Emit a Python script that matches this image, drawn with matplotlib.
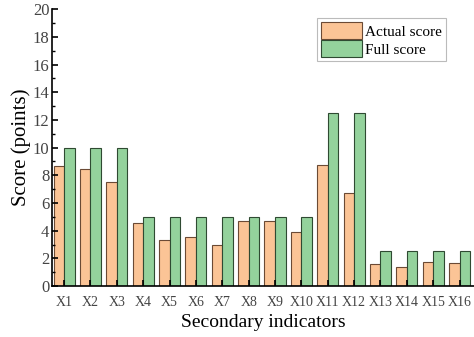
import matplotlib
matplotlib.use('Agg')
import matplotlib.pyplot as plt
import numpy as np

# scores for each secondary indicator
indicators = ['X1', 'X2', 'X3', 'X4', 'X5', 'X6', 'X7', 'X8',
              'X9', 'X10', 'X11', 'X12', 'X13', 'X14', 'X15', 'X16']
actual_score = [8.65, 8.45, 7.5, 4.55, 3.35, 3.55, 3.0, 4.72,
                4.68, 3.93, 8.72, 6.75, 1.6, 1.35, 1.77, 1.65]
full_score = [10, 10, 10, 5, 5, 5, 5, 5,
              5, 5, 12.5, 12.5, 2.5, 2.5, 2.5, 2.5]

plt.rcParams['font.family'] = ['Liberation Serif', 'DejaVu Serif']

fig = plt.figure(figsize=(4.74, 3.37), dpi=100)
ax = fig.add_axes([0.11, 0.151, 0.89, 0.822])

x = np.arange(1, len(indicators) + 1)
w = 0.4
ax.bar(x - w / 2, actual_score, w, color='#FBC496', edgecolor='#6b4a35',
       linewidth=0.8, label='Actual score')
ax.bar(x + w / 2, full_score, w, color='#94D29C', edgecolor='#2f4a32',
       linewidth=0.8, label='Full score')

ax.set_xlim(0.545, 16.55)
ax.set_ylim(0, 20)
ax.set_xticks(x)
ax.set_xticklabels(indicators)
ax.set_yticks(np.arange(0, 21, 2))
ax.set_yticks(np.arange(0, 21, 1), minor=True)
ax.tick_params(axis='both', which='major', direction='in', length=4,
               width=1.2, labelsize=12, labelcolor='#444444')
ax.tick_params(axis='x', labelsize=10, pad=7)
ax.tick_params(axis='y', pad=2)
ax.tick_params(axis='y', which='minor', direction='in', length=2.5, width=1)
ax.spines['top'].set_visible(False)
ax.spines['right'].set_visible(False)
ax.spines['left'].set_linewidth(1.2)
ax.spines['bottom'].set_linewidth(1.2)

ax.set_ylabel('Score (points)', fontsize=15, labelpad=1)
ax.set_xlabel('Secondary indicators', fontsize=14, labelpad=4)

leg = ax.legend(loc='upper right', bbox_to_anchor=(0.934, 0.967), fontsize=11,
                fancybox=False, edgecolor='#aaaaaa', handlelength=2.7,
                handleheight=1.3, handletextpad=0.2, borderpad=0.25,
                labelspacing=0.1, borderaxespad=0)
leg.get_frame().set_linewidth(0.8)

plt.savefig('out.png', dpi=100)
